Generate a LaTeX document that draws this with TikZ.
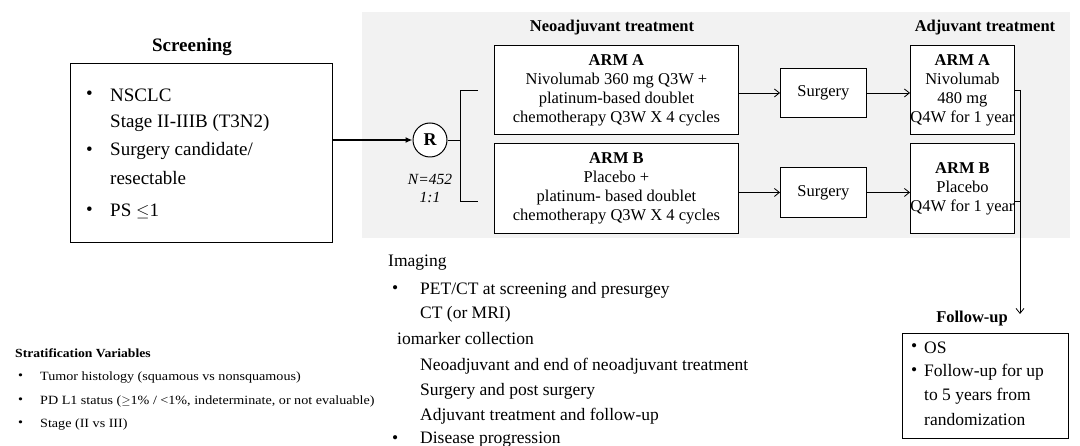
\documentclass[tikz,border=0pt]{standalone}
\usepackage{fontspec}
\setmainfont{Liberation Serif}
\usetikzlibrary{arrows.meta}
\begin{document}
\begin{tikzpicture}[x=1pt,y=-1pt,
 box/.style={draw,line width=0.9pt,fill=white,align=center,inner sep=0pt,font=\fontsize{16.5}{19}\selectfont},
 ttl/.style={font=\bfseries\fontsize{16.5}{18}\selectfont},
 arr/.style={-{Straight Barb[length=5pt,width=8pt]},line width=0.8pt},
 ln/.style={line width=0.8pt},
 txt/.style={anchor=west,font=\fontsize{17.5}{19}\selectfont,inner sep=0pt}]
\useasboundingbox (0,0) rectangle (1080,446);
\fill[black!5] (362,12) rectangle (1070,238);
% screening
\node[ttl,font=\bfseries\fontsize{19}{22}\selectfont] (st) at (192,47) {Screening};
\node[draw,line width=1pt,minimum width=262,minimum height=179,anchor=north west] (scr) at (70,63) {};
\begin{scope}[every node/.style={anchor=west,font=\fontsize{19}{22}\selectfont,inner sep=0pt}]
\node (s1b) at (86,95) {•}; \node (s1) at (110,95) {NSCLC};
\node (s2) at (110,123) {Stage II-IIIB (T3N2)};
\node (s3b) at (86,151) {•}; \node (s3) at (110,151) {Surgery candidate/};
\node (s4) at (110,178) {resectable};
\node (s5b) at (86,211) {•}; \node (s5) at (110,211) {PS $\leq$1};
\end{scope}
% R
\node[draw,circle,line width=1pt,minimum size=34,inner sep=0pt,fill=white,font=\bfseries\fontsize{18}{20}\selectfont] (R) at (430,140) {R};
\draw[-{Latex[length=7pt,width=6pt]},line width=1.8pt] (scr.east|-R) -- (R);
\node[font=\itshape\fontsize{15.5}{18}\selectfont,align=center,inner sep=0pt] (n) at (430,188) {N=452\\1:1};
% boxes
\node[box,minimum width=244,minimum height=89,anchor=north west] (na) at (494,45) {\textbf{ARM A}\\Nivolumab 360 mg Q3W +\\platinum-based doublet\\chemotherapy Q3W X 4 cycles};
\node[box,minimum width=244,minimum height=90,anchor=north west] (nb) at (494,143) {\textbf{ARM B}\\Placebo +\\platinum- based doublet\\chemotherapy Q3W X 4 cycles};
\node[box,minimum width=86,minimum height=49,anchor=north west] (sa) at (780,68) {Surgery};
\node[box,minimum width=86,minimum height=50,anchor=north west] (sb) at (780,167) {Surgery};
\node[box,minimum width=100,minimum height=89,anchor=north west] (aa) at (910,45) {\textbf{ARM A}\\Nivolumab\\480 mg\\Q4W for 1 year};
\node[box,minimum width=100,minimum height=90,anchor=north west] (ab) at (910,143) {\textbf{ARM B}\\Placebo\\Q4W for 1 year};
\node[ttl] (nt) at (612,28) {Neoadjuvant treatment};
\node[ttl] (at) at (985,28) {Adjuvant treatment};
% connectors
\coordinate (b0) at (460,140);
\coordinate (bt) at (460,90); \coordinate (bb) at (460,201);
\draw[ln] (R.east) -- (b0);
\draw[ln] (478,90) -- (bt) -- (bb) -- (478,201);
\draw[arr] (na.east|-sa) -- (sa.west);
\draw[arr] (nb.east|-sb) -- (sb.west);
\draw[arr] (sa.east) -- (aa.west|-sa);
\draw[arr] (sb.east) -- (ab.west|-sb);
\coordinate (ra) at (1020,90); \coordinate (rb) at (1020,201); \coordinate (rd) at (1020,314);
\draw[ln] (aa.east|-ra) -- (ra);
\draw[ln] (ab.east|-rb) -- (rb);
\draw[arr] (ra) -- (rd);
% follow-up
\node[ttl] (ft) at (972,319) {Follow-up};
\node[draw,line width=1pt,minimum width=166,minimum height=105,anchor=north west] (fb) at (902,333) {};
\begin{scope}[every node/.style={txt}]
\node (f1b) at (911,348) {•}; \node (f1) at (924,348) {OS};
\node (f2b) at (911,372) {•}; \node (f2) at (924,372) {Follow-up for up};
\node (f3) at (924,396) {to 5 years from};
\node (f4) at (924,420) {randomization};
% imaging
\node (i0) at (388,263) {Imaging};
\node (i1b) at (392,290) {•}; \node (i1) at (420,290) {PET/CT at screening and presurgey};
\node (i2) at (420,314) {CT (or MRI)};
\node (i3) at (397,339) {iomarker collection};
\node (i4) at (420,366) {Neoadjuvant and end of neoadjuvant treatment};
\node (i5) at (420,391) {Surgery and post surgery};
\node (i6) at (420,416) {Adjuvant treatment and follow-up};
\node (i7b) at (392,440) {•}; \node (i7) at (420,440) {Disease progression};
\end{scope}
% stratification
\begin{scope}[every node/.style={anchor=west,inner sep=0pt,font=\fontsize{12.6}{14}\selectfont\addfontfeature{FakeStretch=1.12}}]
\node[font=\bfseries\fontsize{12.4}{14}\selectfont\addfontfeature{FakeStretch=1.1}] (sv) at (15,353) {Stratification Variables};
\node (v1b) at (18,377) {•}; \node (v1) at (40,377) {Tumor histology (squamous vs nonsquamous)};
\node (v2b) at (18,401) {•}; \node (v2) at (40,401) {PD L1 status ($\geq$1\% / <1\%, indeterminate, or not evaluable)};
\node (v3b) at (18,424) {•}; \node (v3) at (40,424) {Stage (II vs III)};
\end{scope}
\end{tikzpicture}
\end{document}
